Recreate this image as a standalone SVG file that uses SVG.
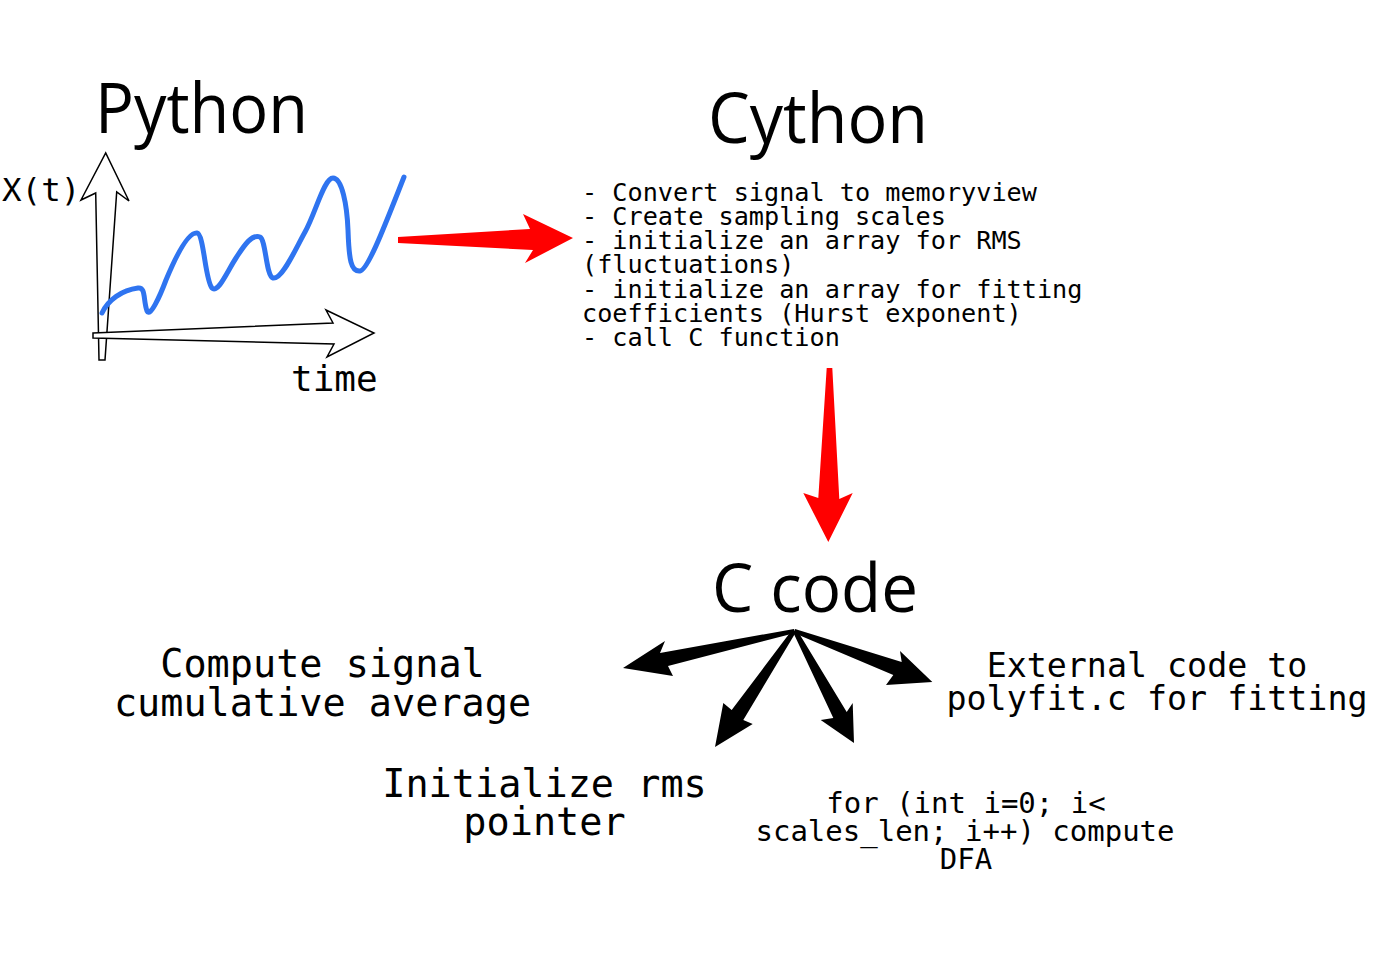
<svg xmlns="http://www.w3.org/2000/svg" width="1400" height="966" viewBox="0 0 1400 966">
<style>
.title{font-family:"Open Sans","Noto Sans",sans-serif;fill:#000}
.mono{font-family:"DejaVu Sans Mono","Liberation Mono",monospace;fill:#000}
.axis{fill:#fff;stroke:#000;stroke-width:1.5;stroke-linejoin:miter}
.red{fill:#ff0000}
.blk{fill:#000}
</style>
<rect width="1400" height="966" fill="#fff"/>
<g id="python">
<text class="title" x="95" y="133" font-size="70" textLength="213" lengthAdjust="spacingAndGlyphs">Python</text>
<text class="mono" x="2" y="201" font-size="32.5">X(t)</text>
<text class="mono" x="291" y="391" font-size="36">time</text>
<polygon class="axis" points="99,360 105,360 116.7,192 129,201 105.7,153 81,200 95.7,193"/>
<polygon class="axis" points="93,333 333,323 326,310 374,333 327,357 334,344 93,338"/>
<path d="M102,313 C108,300 122,290 138,288 C146,287 143,300 147,311 C150,318 160,296 166,280 C176,256 188,232 197,233 C204,234 205,280 212,288 C218,294 228,270 236,258 C245,244 252,234 260,237 C266,240 266,276 273,278 C282,280 295,250 305,232 C316,212 324,178 333,178 C342,178 347,205 348,230 C349,260 351,272 360,271 C368,270 385,225 404,177" fill="none" stroke="#2f74f0" stroke-width="5" stroke-linecap="round"/>
</g>
<g id="cython">
<text class="title" x="708" y="143" font-size="70" textLength="220" lengthAdjust="spacingAndGlyphs">Cython</text>
<text class="mono" font-size="25.2">
<tspan x="582" y="200.5">- Convert signal to memoryview</tspan>
<tspan x="582" y="224.8">- Create sampling scales</tspan>
<tspan x="582" y="249.1">- initialize an array for RMS</tspan>
<tspan x="582" y="273.4">(fluctuations)</tspan>
<tspan x="582" y="297.7">- initialize an array for fitting</tspan>
<tspan x="582" y="322">coefficients (Hurst exponent)</tspan>
<tspan x="582" y="346.3">- call C function</tspan>
</text>
</g>
<g id="ccode">
<text class="title" x="712" y="612" font-size="68" textLength="206" lengthAdjust="spacingAndGlyphs">C code</text>
</g>
<g id="cumulative">
<text class="mono" font-size="38.5" text-anchor="middle"><tspan x="322.5" y="677">Compute signal</tspan><tspan x="322.5" y="716">cumulative average</tspan></text>
</g>
<g id="rms">
<text class="mono" font-size="38.5" text-anchor="middle"><tspan x="544.5" y="797">Initialize rms</tspan><tspan x="544.5" y="835">pointer</tspan></text>
</g>
<g id="dfa">
<text class="mono" font-size="29" text-anchor="middle"><tspan x="966" y="813">for (int i=0; i&lt;</tspan><tspan x="965" y="841">scales_len; i++) compute</tspan><tspan x="966" y="869">DFA</tspan></text>
</g>
<g id="polyfit">
<text class="mono" font-size="33.3" text-anchor="middle"><tspan x="1147" y="677">External code to</tspan><tspan x="1157" y="710">polyfit.c for fitting</tspan></text>
</g>
<g id="connectors">
<polygon class="red" points="398,237 530,229 523,214 573,238 525,263 533,250 398,243"/>
<polygon class="red" points="826.7,368 832.3,368 839.3,499 852.7,493 828.3,542 803.3,493 818.3,498"/>
<polygon class="blk" points="794,629 660,653 665,641 623,668 673,676 668,666 795,633"/>
<polygon class="blk" points="792,630 731.7,710 723.3,703 715,747 752.7,724 743.3,720 796,632"/>
<polygon class="blk" points="793,632 833.3,718 820.7,720 854,743 852.7,703 846.7,712 797,630"/>
<polygon class="blk" points="795,629 901.7,662 900,651 932.3,682 886,685 893.3,675 794,633"/>
</g>
</svg>
